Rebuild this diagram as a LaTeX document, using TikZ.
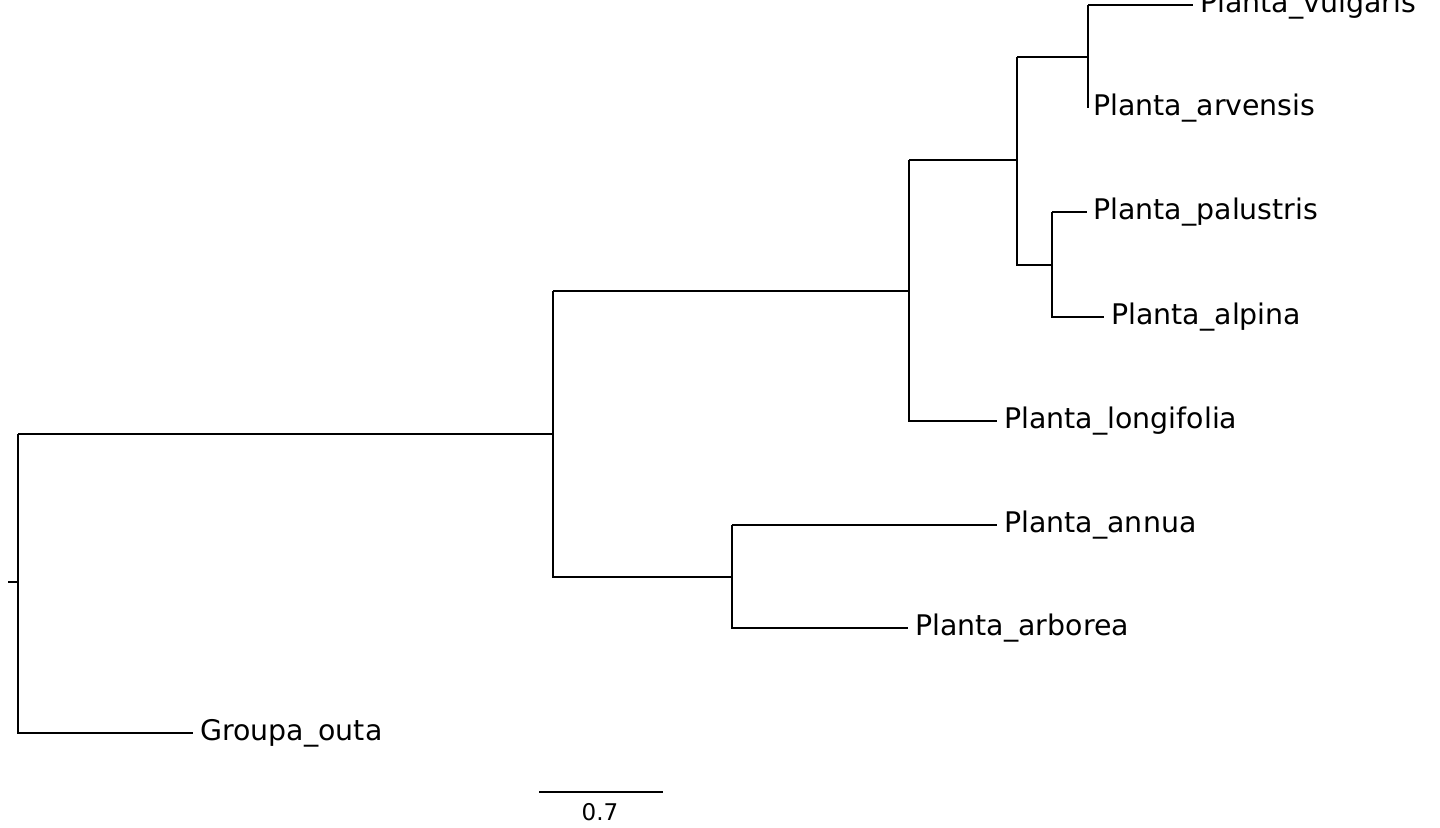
\documentclass[tikz,border=0pt]{standalone}
\usepackage{fontspec}
\setmainfont{DejaVu Sans}
\begin{document}
\begin{tikzpicture}[x=0.5pt,y=-0.5pt,
  br/.style={line width=0.6pt,black},
  lab/.style={anchor=west,inner sep=0pt,font=\fontsize{14.2}{16}\selectfont}]
\useasboundingbox (0,0) rectangle (1440,827);
\coordinate (r0) at (8,582);
\coordinate (r) at (18,582);
\coordinate (f) at (732,577);
\coordinate (e) at (1052,265);
\node[lab] (vul) at (1200,5) {Planta\_vulgaris};
\node[lab] (arv) at (1093,108) {Planta\_arvensis};
\node[lab] (pal) at (1093,212) {Planta\_palustris};
\node[lab] (alp) at (1111,317) {Planta\_alpina};
\node[lab] (lon) at (1004,421) {Planta\_longifolia};
\node[lab] (ann) at (1004,525) {Planta\_annua};
\node[lab] (arb) at (915,628) {Planta\_arborea};
\node[lab] (out) at (200,733) {Groupa\_outa};
\draw[br] (r0) -- (r);
\draw[br] (18,434) -- (18,733) -- ([xshift=-3.5pt]out.west);
\draw[br] (18,434) -- (553,434);
\draw[br] (553,291) -- (553,577) -- (f);
\draw[br] (553,291) -- (909,291);
\draw[br] (909,160) -- (909,421) -- ([xshift=-3.5pt]lon.west);
\draw[br] (909,160) -- (1017,160);
\draw[br] (1017,57) -- (1017,265) -- (e);
\draw[br] (1017,57) -- (1088,57);
\draw[br] (1088,5) -- (1088,108) -- ([xshift=-2.5pt]arv.west);
\draw[br] (1088,5) -- ([xshift=-3.5pt]vul.west);
\draw[br] (1052,212) -- (1052,317) -- ([xshift=-3.5pt]alp.west);
\draw[br] (1052,212) -- ([xshift=-3pt]pal.west);
\draw[br] (732,525) -- (732,628) -- ([xshift=-3.5pt]arb.west);
\draw[br] (732,525) -- ([xshift=-3.5pt]ann.west);
\coordinate (s1) at (539,792);
\coordinate (s2) at (663,792);
\draw[br] (s1) -- (s2);
\node[inner sep=0pt,font=\fontsize{11.5}{13}\selectfont] (sc) at (600,812) {0.7};
\end{tikzpicture}
\end{document}
